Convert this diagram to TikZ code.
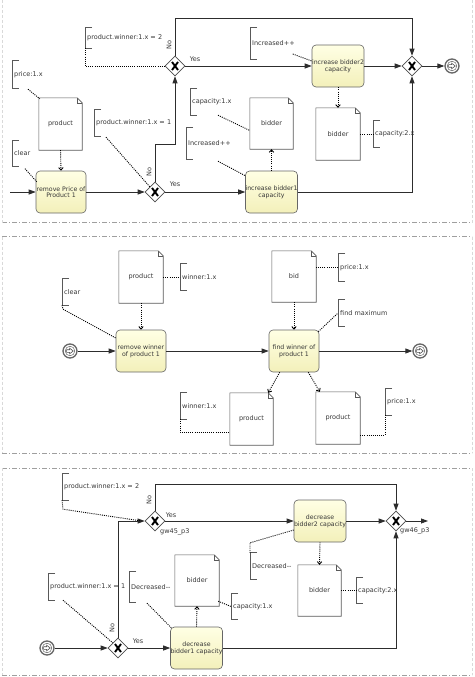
\documentclass[tikz,border=0pt]{standalone}
\usepackage{fontspec}
\setmainfont{DejaVu Sans}
\usetikzlibrary{arrows.meta,calc,shapes.geometric}
\definecolor{tasktop}{RGB}{255,255,228}
\definecolor{taskbot}{RGB}{243,240,186}
\definecolor{txt}{RGB}{55,55,55}
\definecolor{lin}{RGB}{45,45,45}
\newcommand\annbr[1]{\draw[brk] ([xshift=7pt]#1.north west) -- (#1.north west) -- (#1.south west) -- ([xshift=7pt]#1.south west);}
\newcommand\docbox[1]{\draw[docl] (#1.north west) -- ([xshift=-5pt]#1.north east) -- ([yshift=-5pt]#1.north east) -- (#1.south east) -- (#1.south west) -- cycle; \draw[docl] ([xshift=-5pt]#1.north east) |- ([yshift=-5pt]#1.north east);}
\newcommand\gwx[1]{\draw[line width=1.9pt,black] ($(#1.center)+(-3,-4)$) -- ($(#1.center)+(3,4)$); \draw[line width=1.9pt,black] ($(#1.center)+(3,-4)$) -- ($(#1.center)+(-3,4)$);}
\newcommand\evtin[1]{\draw[gray!80!black,line width=0.5pt] (#1.center) circle (4.8pt); \filldraw[fill=white,draw=gray!60!black,line width=0.6pt] ($(#1.center)+(-3.4,-1.3)$) -- ++(3,0) -- ++(0,-1.5) -- ++(3.6,2.8) -- ++(-3.6,2.8) -- ++(0,-1.5) -- ++(-3,0) -- cycle;}
\begin{document}
\begin{tikzpicture}[x=1pt,y=-1pt,
  every node/.style={font=\fontsize{6.5}{7.5}\selectfont, text=txt},
  task/.style={draw=black!60, line width=0.6pt, rounded corners=4pt, minimum width=50pt, minimum height=42pt, inner sep=0pt, align=center, top color=tasktop, bottom color=taskbot, font=\fontsize{6.2}{6.6}\selectfont},
  ann/.style={anchor=west, minimum height=#1, inner xsep=2pt, inner ysep=0pt, align=left},
  ann/.default=26pt,
  doc/.style={draw=none, inner sep=0pt},
  docl/.style={draw=black!65, line width=0.6pt},
  brk/.style={draw=black!65, line width=0.7pt},
  gw/.style={diamond, draw=black!70, line width=0.6pt, fill=white, minimum width=20pt, minimum height=20pt, inner sep=0pt},
  evt/.style={circle, draw=gray!80!black, line width=1.3pt, fill=white, minimum size=14pt, inner sep=0pt},
  flow/.style={draw=lin, line width=0.8pt, -{Triangle[length=7pt,width=5pt]}},
  assoc/.style={draw=black, line width=0.9pt, dash pattern=on 1pt off 1.1pt},
  assa/.style={assoc, -{Straight Barb[length=2.5pt,width=4.5pt]}},
  lbl/.style={inner sep=0pt},
  panel/.style={draw=gray!75, line width=0.6pt, dash pattern=on 5pt off 2pt on 1pt off 2pt},
  pside/.style={draw=gray!30, line width=0.6pt, dash pattern=on 3pt off 2pt}
]
\useasboundingbox (0,0) rectangle (474,677);
% panels
\draw[panel] (2,222.5) -- (472,222.5);
\draw[pside] (2,-5) -- (2,222.5) (472,-5) -- (472,222.5);
\draw[panel] (2,236.5) -- (472,236.5) (2,453) -- (472,453);
\draw[pside] (2,236.5) -- (2,453) (472,236.5) -- (472,453);
\draw[panel] (2,468) -- (472,468) (2,675) -- (472,675);
\draw[pside] (2,468) -- (2,675) (472,468) -- (472,675);

% ================= PANEL 1 =================
\coordinate (s1) at (10,192);
\node[task] (t11) at (61,192) {remove Price of\\Product 1};
\node[ann] (a11) at (12,153.5) {clear};
\node[ann=27pt] (a12) at (12,74.5) {price:1.x};
\node[doc, minimum width=43pt, minimum height=52pt] (d11) at (60.5,124) {product};
\node[gw] (g11) at (155,192) {};
\node[ann] (a13) at (94,123) {product.winner:1.x = 1};
\node[gw] (g12) at (175,66) {};
\node[ann=20pt] (a14) at (85,38) {product.winner:1.x = 2};
\node[gw] (g13) at (412,66) {};
\node[evt] (e11) at (452,66) {};
\node[task] (t12) at (338,66) {increase bidder2\\capacity};
\node[ann=31pt] (a15) at (250,43.5) {Increased++};
\node[doc, minimum width=44pt, minimum height=52pt] (d12) at (338,134) {bidder};
\node[ann] (a16) at (373,134) {capacity:2.x};
\node[task] (t13) at (271.5,192) {increase bidder1\\capacity};
\node[doc, minimum width=43pt, minimum height=51pt] (d13) at (271.5,123.5) {bidder};
\node[ann] (a17) at (190,102) {capacity:1.x};
\node[ann=31pt] (a18) at (186,143.5) {Increased++};
\node[lbl, rotate=90] (n11) at (149,172) {No};
\node[lbl] (y11) at (175,184) {Yes};
\node[lbl, rotate=90] (n12) at (169,45) {No};
\node[lbl] (y12) at (195,59) {Yes};
\foreach \a in {a11,a12,a13,a14,a15,a16,a17,a18} {\annbr{\a}}
\foreach \d in {d11,d12,d13} {\docbox{\d}}
\foreach \g in {g11,g12,g13} {\gwx{\g}}
\evtin{e11}
\draw[flow] (s1) -- (t11.west);
\draw[flow] (t11.east) -- (g11.west);
\draw[flow] (g11.north) -- ++(0,-37) -| (g12.south);
\draw[flow] (g12.north) -- ++(0,-37) -| (g13.north);
\draw[flow] (g12.east) -- (t12.west);
\draw[flow] (t12.east) -- (g13.west);
\draw[flow] (g13.east) -- (e11.west);
\draw[flow] (g11.east) -- (t13.west);
\draw[flow] (t13.east) -| (g13.south);
\draw[assa] (d11.south) -- (t11.north);
\draw[assa] (t12.south) -- (d12.north);
\draw[assa] (t13.north) -- (d13.south);
\draw[assoc] (d12.east) -- (a16.west);
\draw[assoc] ($(a11.south west)+(13,2)$) -- ($(t11.north west)+(1,11)$);
\draw[assoc] ($(a12.south west)+(16,1)$) -- ($(d11.north west)+(1,1)$);
\draw[assoc] ($(a13.south west)+(12,1)$) -- (g11.north west);
\draw[assoc] (a14.south west) |- (g12.west);
\draw[assoc] ($(t12.west)+(-19,-12)$) -- ($(t12.west)+(0,-5)$);
\draw[assoc] ($(a17.south west)+(28,0)$) -- ($(d13.west)+(0,7)$);
\draw[assoc] ($(a18.south west)+(32,2)$) -- ($(t13.north west)+(0,5)$);

% ================= PANEL 2 =================
\node[evt] (e21) at (70,351) {};
\node[task] (t21) at (141,351) {remove winner\\of product 1};
\node[ann] (a21) at (62,292) {clear};
\node[doc, minimum width=44pt, minimum height=52pt] (d21) at (141,277) {product};
\node[ann] (a22) at (180,277) {winner:1.x};
\node[task] (t22) at (294,351) {find winner of\\product 1};
\node[doc, minimum width=44pt, minimum height=51pt] (d22) at (294,276.5) {bid};
\node[ann=27pt] (a23) at (338,267.5) {price:1.x};
\node[ann] (a24) at (338,313) {find maximum};
\node[evt] (e22) at (420,351) {};
\node[doc, minimum width=43pt, minimum height=52pt] (d23) at (251.5,419) {product};
\node[ann] (a25) at (180,406) {winner:1.x};
\node[doc, minimum width=44pt, minimum height=52pt] (d24) at (338,418) {product};
\node[ann] (a26) at (385,402) {price:1.x};
\foreach \a in {a21,a22,a23,a24,a25,a26} {\annbr{\a}}
\foreach \d in {d21,d22,d23,d24} {\docbox{\d}}
\evtin{e21}\evtin{e22}
\draw[flow] (e21.east) -- (t21.west);
\draw[flow] (t21.east) -- (t22.west);
\draw[flow] (t22.east) -- (e22.west);
\draw[assa] (d21.south) -- (t21.north);
\draw[assa] (d22.south) -- (t22.north);
\draw[assa] ($(t22.south west)+(11,0)$) -- ($(d23.north east)+(-5,0)$);
\draw[assa] ($(t22.south east)+(-11,0)$) -- ($(d24.north west)+(4,0)$);
\draw[assoc] (d21.east) -- (a22.west);
\draw[assoc] (a23.west) -- (a23.west -| d22.east);
\draw[assoc] ($(t22.north east)+(-1,2)$) -- (a24.west);
\draw[assoc] (a21.south west) -- ++(1,4) -- ($(t21.west)+(0,-13)$);
\draw[assoc] (a25.south west) |- ($(d23.west)+(0,13)$);
\draw[assoc] ($(d24.east)+(0,17)$) -| (a26.south west);

% ================= PANEL 3 =================
\node[evt] (e31) at (47,648) {};
\node[gw] (g31) at (118,648) {};
\node[ann] (a31) at (48,587) {product.winner:1.x = 1};
\node[gw] (g32) at (155,521) {};
\node[ann] (a32) at (62,487) {product.winner:1.x = 2};
\node[gw] (g33) at (396,521) {};
\node[lbl, anchor=west] (gl1) at (160,532) {gw45\_p3};
\node[lbl, anchor=west] (gl2) at (400,531) {gw46\_p3};
\coordinate (c31) at (428,521);
\node[task] (t32) at (320,521) {decrease\\bidder2 capacity};
\node[ann] (a33) at (250,566) {Decreased{-}{-}};
\node[doc, minimum width=43pt, minimum height=51pt] (d32) at (319.5,590.5) {bidder};
\node[ann] (a34) at (356,590.5) {capacity:2.x};
\node[task] (t31) at (196.5,648) {decrease\\bidder1 capacity};
\node[doc, minimum width=44pt, minimum height=51pt] (d31) at (197,580.5) {bidder};
\node[ann] (a35) at (231,606.5) {capacity:1.x};
\node[ann=30pt] (a36) at (129,587) {Decreased{-}{-}};
\node[lbl, rotate=90] (n31) at (112,628) {No};
\node[lbl] (y31) at (138,641) {Yes};
\node[lbl, rotate=90] (n32) at (149,500) {No};
\node[lbl] (y32) at (171,515) {Yes};
\foreach \a in {a31,a32,a33,a34,a35,a36} {\annbr{\a}}
\foreach \d in {d31,d32} {\docbox{\d}}
\foreach \g in {g31,g32,g33} {\gwx{\g}}
\evtin{e31}
\draw[flow] (e31.east) -- (g31.west);
\draw[flow] (g31.north) |- (g32.west);
\draw[flow] (g32.north) -- ++(0,-26) -| (g33.north);
\draw[flow] (g32.east) -- (t32.west);
\draw[flow] (t32.east) -- (g33.west);
\draw[flow] (g33.east) -- (c31);
\draw[flow] (g31.east) -- (t31.west);
\draw[flow] (t31.east) -| (g33.south);
\draw[assa] (t32.south) -- (d32.north);
\draw[assa] (t31.north) -- (d31.south);
\draw[assoc] (d32.east) -- (a34.west);
\draw[assoc] ($(a31.south west)+(15,0)$) -- (g31.north west);
\draw[assoc] (a32.south west) -- ++(1,9) -- ($(g32.west)+(-3,0)$);
\draw[assoc] ($(t32.west)+(0,9)$) -- ($(a33.north west)+(0,-10)$) -- (a33.north west);
\draw[assoc] ($(d31.south east)+(-1,-5)$) -- (a35.west);
\draw[assoc] ($(a36.south west)+(18,1)$) -- ($(t31.north west)+(1,1)$);
\end{tikzpicture}
\end{document}
